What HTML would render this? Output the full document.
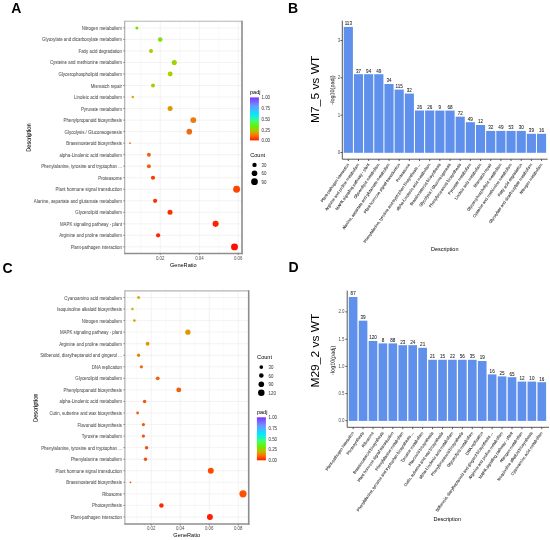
<!DOCTYPE html><html><head><meta charset="utf-8"><style>html,body{margin:0;padding:0;background:#fff;width:550px;height:540px;overflow:hidden}svg{display:block;will-change:transform}</style></head><body><svg width="550" height="540" viewBox="0 0 550 540" font-family='"Liberation Sans", sans-serif'>
<defs><linearGradient id="rb" x1="0" y1="1" x2="0" y2="0"><stop offset="0" stop-color="#ff1a00"/><stop offset="0.1" stop-color="#ff6a00"/><stop offset="0.2" stop-color="#c8b400"/><stop offset="0.32" stop-color="#66f000"/><stop offset="0.45" stop-color="#40ff70"/><stop offset="0.6" stop-color="#00eaff"/><stop offset="0.8" stop-color="#6a9aff"/><stop offset="1" stop-color="#8033ff"/></linearGradient><filter id="soft" x="0" y="0" width="550" height="540" filterUnits="userSpaceOnUse"><feGaussianBlur stdDeviation="0.3"/></filter></defs>
<rect width="550" height="540" fill="#fff"/>
<g filter="url(#soft)">
<text x="0" y="0.00" font-size="14" text-anchor="start" fill="#000" font-weight="bold" transform="translate(11.30 12.80) scale(1 1)">A</text>
<line x1="140.60" y1="21.25" x2="140.60" y2="253.50" stroke="#f4f4f4" stroke-width="0.5"/>
<line x1="179.80" y1="21.25" x2="179.80" y2="253.50" stroke="#f4f4f4" stroke-width="0.5"/>
<line x1="218.80" y1="21.25" x2="218.80" y2="253.50" stroke="#f4f4f4" stroke-width="0.5"/>
<line x1="124.70" y1="27.90" x2="242.00" y2="27.90" stroke="#ebebeb" stroke-width="0.6"/>
<line x1="124.70" y1="39.43" x2="242.00" y2="39.43" stroke="#ebebeb" stroke-width="0.6"/>
<line x1="124.70" y1="50.95" x2="242.00" y2="50.95" stroke="#ebebeb" stroke-width="0.6"/>
<line x1="124.70" y1="62.48" x2="242.00" y2="62.48" stroke="#ebebeb" stroke-width="0.6"/>
<line x1="124.70" y1="74.00" x2="242.00" y2="74.00" stroke="#ebebeb" stroke-width="0.6"/>
<line x1="124.70" y1="85.53" x2="242.00" y2="85.53" stroke="#ebebeb" stroke-width="0.6"/>
<line x1="124.70" y1="97.06" x2="242.00" y2="97.06" stroke="#ebebeb" stroke-width="0.6"/>
<line x1="124.70" y1="108.58" x2="242.00" y2="108.58" stroke="#ebebeb" stroke-width="0.6"/>
<line x1="124.70" y1="120.11" x2="242.00" y2="120.11" stroke="#ebebeb" stroke-width="0.6"/>
<line x1="124.70" y1="131.63" x2="242.00" y2="131.63" stroke="#ebebeb" stroke-width="0.6"/>
<line x1="124.70" y1="143.16" x2="242.00" y2="143.16" stroke="#ebebeb" stroke-width="0.6"/>
<line x1="124.70" y1="154.69" x2="242.00" y2="154.69" stroke="#ebebeb" stroke-width="0.6"/>
<line x1="124.70" y1="166.21" x2="242.00" y2="166.21" stroke="#ebebeb" stroke-width="0.6"/>
<line x1="124.70" y1="177.74" x2="242.00" y2="177.74" stroke="#ebebeb" stroke-width="0.6"/>
<line x1="124.70" y1="189.26" x2="242.00" y2="189.26" stroke="#ebebeb" stroke-width="0.6"/>
<line x1="124.70" y1="200.79" x2="242.00" y2="200.79" stroke="#ebebeb" stroke-width="0.6"/>
<line x1="124.70" y1="212.32" x2="242.00" y2="212.32" stroke="#ebebeb" stroke-width="0.6"/>
<line x1="124.70" y1="223.84" x2="242.00" y2="223.84" stroke="#ebebeb" stroke-width="0.6"/>
<line x1="124.70" y1="235.37" x2="242.00" y2="235.37" stroke="#ebebeb" stroke-width="0.6"/>
<line x1="124.70" y1="246.89" x2="242.00" y2="246.89" stroke="#ebebeb" stroke-width="0.6"/>
<line x1="160.20" y1="21.25" x2="160.20" y2="253.50" stroke="#ebebeb" stroke-width="0.6"/>
<line x1="199.40" y1="21.25" x2="199.40" y2="253.50" stroke="#ebebeb" stroke-width="0.6"/>
<line x1="238.20" y1="21.25" x2="238.20" y2="253.50" stroke="#ebebeb" stroke-width="0.6"/>
<circle cx="136.90" cy="27.90" r="1.50" fill="#66e600"/>
<circle cx="160.20" cy="39.43" r="2.30" fill="#80e010"/>
<circle cx="151.00" cy="50.95" r="2.00" fill="#aacc00"/>
<circle cx="174.30" cy="62.48" r="2.55" fill="#a0d400"/>
<circle cx="170.20" cy="74.00" r="2.45" fill="#aad000"/>
<circle cx="153.00" cy="85.53" r="2.00" fill="#a0d000"/>
<circle cx="132.80" cy="97.06" r="1.20" fill="#d4a800"/>
<circle cx="170.10" cy="108.58" r="2.50" fill="#dd9a00"/>
<circle cx="193.30" cy="120.11" r="2.95" fill="#ee7a10"/>
<circle cx="189.30" cy="131.63" r="2.80" fill="#ee6a10"/>
<circle cx="130.00" cy="143.16" r="0.90" fill="#ee7030"/>
<circle cx="148.90" cy="154.69" r="1.95" fill="#f06010"/>
<circle cx="148.90" cy="166.21" r="1.95" fill="#f06010"/>
<circle cx="153.00" cy="177.74" r="2.10" fill="#ff3a00"/>
<circle cx="236.60" cy="189.26" r="3.45" fill="#ff4400"/>
<circle cx="155.10" cy="200.79" r="2.10" fill="#ff3000"/>
<circle cx="170.00" cy="212.32" r="2.50" fill="#ff2a00"/>
<circle cx="215.60" cy="223.84" r="3.05" fill="#ff2000"/>
<circle cx="158.10" cy="235.37" r="2.10" fill="#ff2000"/>
<circle cx="234.50" cy="246.89" r="3.45" fill="#ff1000"/>
<line x1="124.70" y1="21.25" x2="242.00" y2="21.25" stroke="#b4b4b4" stroke-width="1.2"/>
<line x1="124.70" y1="20.65" x2="124.70" y2="254.30" stroke="#a8a8a8" stroke-width="1.1"/>
<line x1="242.00" y1="20.65" x2="242.00" y2="254.30" stroke="#8c8c8c" stroke-width="1.6"/>
<line x1="124.15" y1="253.50" x2="242.80" y2="253.50" stroke="#8f8f8f" stroke-width="1.6"/>
<line x1="123.10" y1="27.90" x2="124.70" y2="27.90" stroke="#555" stroke-width="0.6"/>
<text x="0" y="1.47" font-size="4.4" text-anchor="end" fill="#575757" font-weight="normal" transform="translate(121.90 28.35) scale(1 1.05)" stroke="#575757" stroke-width="0.05">Nitrogen metabolism</text>
<line x1="123.10" y1="39.43" x2="124.70" y2="39.43" stroke="#555" stroke-width="0.6"/>
<text x="0" y="1.47" font-size="4.4" text-anchor="end" fill="#575757" font-weight="normal" transform="translate(121.90 39.88) scale(1 1.05)" stroke="#575757" stroke-width="0.05">Glyoxylate and dicarboxylate metabolism</text>
<line x1="123.10" y1="50.95" x2="124.70" y2="50.95" stroke="#555" stroke-width="0.6"/>
<text x="0" y="1.47" font-size="4.4" text-anchor="end" fill="#575757" font-weight="normal" transform="translate(121.90 51.40) scale(1 1.05)" stroke="#575757" stroke-width="0.05">Fatty acid degradation</text>
<line x1="123.10" y1="62.48" x2="124.70" y2="62.48" stroke="#555" stroke-width="0.6"/>
<text x="0" y="1.47" font-size="4.4" text-anchor="end" fill="#575757" font-weight="normal" transform="translate(121.90 62.93) scale(1 1.05)" stroke="#575757" stroke-width="0.05">Cysteine and methionine metabolism</text>
<line x1="123.10" y1="74.00" x2="124.70" y2="74.00" stroke="#555" stroke-width="0.6"/>
<text x="0" y="1.47" font-size="4.4" text-anchor="end" fill="#575757" font-weight="normal" transform="translate(121.90 74.45) scale(1 1.05)" stroke="#575757" stroke-width="0.05">Glycerophospholipid metabolism</text>
<line x1="123.10" y1="85.53" x2="124.70" y2="85.53" stroke="#555" stroke-width="0.6"/>
<text x="0" y="1.47" font-size="4.4" text-anchor="end" fill="#575757" font-weight="normal" transform="translate(121.90 85.98) scale(1 1.05)" stroke="#575757" stroke-width="0.05">Mismatch repair</text>
<line x1="123.10" y1="97.06" x2="124.70" y2="97.06" stroke="#555" stroke-width="0.6"/>
<text x="0" y="1.47" font-size="4.4" text-anchor="end" fill="#575757" font-weight="normal" transform="translate(121.90 97.51) scale(1 1.05)" stroke="#575757" stroke-width="0.05">Linoleic acid metabolism</text>
<line x1="123.10" y1="108.58" x2="124.70" y2="108.58" stroke="#555" stroke-width="0.6"/>
<text x="0" y="1.47" font-size="4.4" text-anchor="end" fill="#575757" font-weight="normal" transform="translate(121.90 109.03) scale(1 1.05)" stroke="#575757" stroke-width="0.05">Pyruvate metabolism</text>
<line x1="123.10" y1="120.11" x2="124.70" y2="120.11" stroke="#555" stroke-width="0.6"/>
<text x="0" y="1.47" font-size="4.4" text-anchor="end" fill="#575757" font-weight="normal" transform="translate(121.90 120.56) scale(1 1.05)" stroke="#575757" stroke-width="0.05">Phenylpropanoid biosynthesis</text>
<line x1="123.10" y1="131.63" x2="124.70" y2="131.63" stroke="#555" stroke-width="0.6"/>
<text x="0" y="1.47" font-size="4.4" text-anchor="end" fill="#575757" font-weight="normal" transform="translate(121.90 132.08) scale(1 1.05)" stroke="#575757" stroke-width="0.05">Glycolysis / Gluconeogenesis</text>
<line x1="123.10" y1="143.16" x2="124.70" y2="143.16" stroke="#555" stroke-width="0.6"/>
<text x="0" y="1.47" font-size="4.4" text-anchor="end" fill="#575757" font-weight="normal" transform="translate(121.90 143.61) scale(1 1.05)" stroke="#575757" stroke-width="0.05">Brassinosteroid biosynthesis</text>
<line x1="123.10" y1="154.69" x2="124.70" y2="154.69" stroke="#555" stroke-width="0.6"/>
<text x="0" y="1.47" font-size="4.4" text-anchor="end" fill="#575757" font-weight="normal" transform="translate(121.90 155.14) scale(1 1.05)" stroke="#575757" stroke-width="0.05">alpha-Linolenic acid metabolism</text>
<line x1="123.10" y1="166.21" x2="124.70" y2="166.21" stroke="#555" stroke-width="0.6"/>
<text x="0" y="1.47" font-size="4.4" text-anchor="end" fill="#575757" font-weight="normal" transform="translate(121.90 166.66) scale(1 1.05)" stroke="#575757" stroke-width="0.05">Phenylalanine, tyrosine and tryptophan ...</text>
<line x1="123.10" y1="177.74" x2="124.70" y2="177.74" stroke="#555" stroke-width="0.6"/>
<text x="0" y="1.47" font-size="4.4" text-anchor="end" fill="#575757" font-weight="normal" transform="translate(121.90 178.19) scale(1 1.05)" stroke="#575757" stroke-width="0.05">Proteasome</text>
<line x1="123.10" y1="189.26" x2="124.70" y2="189.26" stroke="#555" stroke-width="0.6"/>
<text x="0" y="1.47" font-size="4.4" text-anchor="end" fill="#575757" font-weight="normal" transform="translate(121.90 189.71) scale(1 1.05)" stroke="#575757" stroke-width="0.05">Plant hormone signal transduction</text>
<line x1="123.10" y1="200.79" x2="124.70" y2="200.79" stroke="#555" stroke-width="0.6"/>
<text x="0" y="1.47" font-size="4.4" text-anchor="end" fill="#575757" font-weight="normal" transform="translate(121.90 201.24) scale(1 1.05)" stroke="#575757" stroke-width="0.05">Alanine, aspartate and glutamate metabolism</text>
<line x1="123.10" y1="212.32" x2="124.70" y2="212.32" stroke="#555" stroke-width="0.6"/>
<text x="0" y="1.47" font-size="4.4" text-anchor="end" fill="#575757" font-weight="normal" transform="translate(121.90 212.77) scale(1 1.05)" stroke="#575757" stroke-width="0.05">Glycerolipid metabolism</text>
<line x1="123.10" y1="223.84" x2="124.70" y2="223.84" stroke="#555" stroke-width="0.6"/>
<text x="0" y="1.47" font-size="4.4" text-anchor="end" fill="#575757" font-weight="normal" transform="translate(121.90 224.29) scale(1 1.05)" stroke="#575757" stroke-width="0.05">MAPK signaling pathway - plant</text>
<line x1="123.10" y1="235.37" x2="124.70" y2="235.37" stroke="#555" stroke-width="0.6"/>
<text x="0" y="1.47" font-size="4.4" text-anchor="end" fill="#575757" font-weight="normal" transform="translate(121.90 235.82) scale(1 1.05)" stroke="#575757" stroke-width="0.05">Arginine and proline metabolism</text>
<line x1="123.10" y1="246.89" x2="124.70" y2="246.89" stroke="#555" stroke-width="0.6"/>
<text x="0" y="1.47" font-size="4.4" text-anchor="end" fill="#575757" font-weight="normal" transform="translate(121.90 247.34) scale(1 1.05)" stroke="#575757" stroke-width="0.05">Plant-pathogen interaction</text>
<line x1="160.20" y1="253.50" x2="160.20" y2="255.10" stroke="#555" stroke-width="0.6"/>
<text x="0" y="1.47" font-size="4.4" text-anchor="middle" fill="#4d4d4d" font-weight="normal" transform="translate(160.20 258.20) scale(1 1.05)">0.02</text>
<line x1="199.40" y1="253.50" x2="199.40" y2="255.10" stroke="#555" stroke-width="0.6"/>
<text x="0" y="1.47" font-size="4.4" text-anchor="middle" fill="#4d4d4d" font-weight="normal" transform="translate(199.40 258.20) scale(1 1.05)">0.04</text>
<line x1="238.20" y1="253.50" x2="238.20" y2="255.10" stroke="#555" stroke-width="0.6"/>
<text x="0" y="1.47" font-size="4.4" text-anchor="middle" fill="#4d4d4d" font-weight="normal" transform="translate(238.20 258.20) scale(1 1.05)">0.06</text>
<text x="0" y="1.87" font-size="5.6" text-anchor="middle" fill="#000" font-weight="normal" transform="translate(183.30 264.80) scale(1 1.05)">GeneRatio</text>
<text x="0" y="1.90" font-size="5.7" text-anchor="middle" fill="#000" font-weight="normal" transform="translate(28.70 137.60) rotate(-89.6) scale(1 1.05)" stroke="#000" stroke-width="0.08">Description</text>
<text x="0" y="1.87" font-size="5.6" text-anchor="start" fill="#000" font-weight="normal" transform="translate(250.00 92.30) scale(1 1.05)">padj</text>
<rect x="250.00" y="97.40" width="8.90" height="43.00" fill="url(#rb)"/>
<text x="0" y="1.47" font-size="4.4" text-anchor="start" fill="#4d4d4d" font-weight="normal" transform="translate(261.50 97.70) scale(1 1.05)" stroke="#4d4d4d" stroke-width="0.06">1.00</text>
<text x="0" y="1.47" font-size="4.4" text-anchor="start" fill="#4d4d4d" font-weight="normal" transform="translate(261.50 108.45) scale(1 1.05)" stroke="#4d4d4d" stroke-width="0.06">0.75</text>
<text x="0" y="1.47" font-size="4.4" text-anchor="start" fill="#4d4d4d" font-weight="normal" transform="translate(261.50 119.20) scale(1 1.05)" stroke="#4d4d4d" stroke-width="0.06">0.50</text>
<text x="0" y="1.47" font-size="4.4" text-anchor="start" fill="#4d4d4d" font-weight="normal" transform="translate(261.50 129.95) scale(1 1.05)" stroke="#4d4d4d" stroke-width="0.06">0.25</text>
<text x="0" y="1.47" font-size="4.4" text-anchor="start" fill="#4d4d4d" font-weight="normal" transform="translate(261.50 140.70) scale(1 1.05)" stroke="#4d4d4d" stroke-width="0.06">0.00</text>
<text x="0" y="1.87" font-size="5.6" text-anchor="start" fill="#000" font-weight="normal" transform="translate(250.20 154.60) scale(1 1.05)">Count</text>
<circle cx="254.50" cy="164.90" r="2.20" fill="#000"/>
<text x="0" y="1.47" font-size="4.4" text-anchor="start" fill="#4d4d4d" font-weight="normal" transform="translate(261.50 165.40) scale(1 1.05)" stroke="#4d4d4d" stroke-width="0.06">30</text>
<circle cx="254.50" cy="173.30" r="2.80" fill="#000"/>
<text x="0" y="1.47" font-size="4.4" text-anchor="start" fill="#4d4d4d" font-weight="normal" transform="translate(261.50 173.80) scale(1 1.05)" stroke="#4d4d4d" stroke-width="0.06">60</text>
<circle cx="254.50" cy="181.70" r="3.35" fill="#000"/>
<text x="0" y="1.47" font-size="4.4" text-anchor="start" fill="#4d4d4d" font-weight="normal" transform="translate(261.50 182.20) scale(1 1.05)" stroke="#4d4d4d" stroke-width="0.06">90</text>
<text x="0" y="0.00" font-size="14" text-anchor="start" fill="#000" font-weight="bold" transform="translate(2.40 273.10) scale(1 1)">C</text>
<line x1="136.70" y1="290.90" x2="136.70" y2="524.00" stroke="#f4f4f4" stroke-width="0.5"/>
<line x1="165.70" y1="290.90" x2="165.70" y2="524.00" stroke="#f4f4f4" stroke-width="0.5"/>
<line x1="194.70" y1="290.90" x2="194.70" y2="524.00" stroke="#f4f4f4" stroke-width="0.5"/>
<line x1="223.70" y1="290.90" x2="223.70" y2="524.00" stroke="#f4f4f4" stroke-width="0.5"/>
<line x1="124.90" y1="297.50" x2="248.70" y2="297.50" stroke="#ebebeb" stroke-width="0.6"/>
<line x1="124.90" y1="309.05" x2="248.70" y2="309.05" stroke="#ebebeb" stroke-width="0.6"/>
<line x1="124.90" y1="320.60" x2="248.70" y2="320.60" stroke="#ebebeb" stroke-width="0.6"/>
<line x1="124.90" y1="332.15" x2="248.70" y2="332.15" stroke="#ebebeb" stroke-width="0.6"/>
<line x1="124.90" y1="343.70" x2="248.70" y2="343.70" stroke="#ebebeb" stroke-width="0.6"/>
<line x1="124.90" y1="355.25" x2="248.70" y2="355.25" stroke="#ebebeb" stroke-width="0.6"/>
<line x1="124.90" y1="366.80" x2="248.70" y2="366.80" stroke="#ebebeb" stroke-width="0.6"/>
<line x1="124.90" y1="378.35" x2="248.70" y2="378.35" stroke="#ebebeb" stroke-width="0.6"/>
<line x1="124.90" y1="389.90" x2="248.70" y2="389.90" stroke="#ebebeb" stroke-width="0.6"/>
<line x1="124.90" y1="401.45" x2="248.70" y2="401.45" stroke="#ebebeb" stroke-width="0.6"/>
<line x1="124.90" y1="413.00" x2="248.70" y2="413.00" stroke="#ebebeb" stroke-width="0.6"/>
<line x1="124.90" y1="424.55" x2="248.70" y2="424.55" stroke="#ebebeb" stroke-width="0.6"/>
<line x1="124.90" y1="436.10" x2="248.70" y2="436.10" stroke="#ebebeb" stroke-width="0.6"/>
<line x1="124.90" y1="447.65" x2="248.70" y2="447.65" stroke="#ebebeb" stroke-width="0.6"/>
<line x1="124.90" y1="459.20" x2="248.70" y2="459.20" stroke="#ebebeb" stroke-width="0.6"/>
<line x1="124.90" y1="470.75" x2="248.70" y2="470.75" stroke="#ebebeb" stroke-width="0.6"/>
<line x1="124.90" y1="482.30" x2="248.70" y2="482.30" stroke="#ebebeb" stroke-width="0.6"/>
<line x1="124.90" y1="493.85" x2="248.70" y2="493.85" stroke="#ebebeb" stroke-width="0.6"/>
<line x1="124.90" y1="505.40" x2="248.70" y2="505.40" stroke="#ebebeb" stroke-width="0.6"/>
<line x1="124.90" y1="516.95" x2="248.70" y2="516.95" stroke="#ebebeb" stroke-width="0.6"/>
<line x1="151.20" y1="290.90" x2="151.20" y2="524.00" stroke="#ebebeb" stroke-width="0.6"/>
<line x1="180.20" y1="290.90" x2="180.20" y2="524.00" stroke="#ebebeb" stroke-width="0.6"/>
<line x1="209.20" y1="290.90" x2="209.20" y2="524.00" stroke="#ebebeb" stroke-width="0.6"/>
<line x1="238.20" y1="290.90" x2="238.20" y2="524.00" stroke="#ebebeb" stroke-width="0.6"/>
<circle cx="138.60" cy="297.50" r="1.50" fill="#d4b000"/>
<circle cx="132.40" cy="309.05" r="1.20" fill="#ccaa00"/>
<circle cx="134.40" cy="320.60" r="1.35" fill="#ccaa00"/>
<circle cx="187.90" cy="332.15" r="2.65" fill="#dd9900"/>
<circle cx="147.60" cy="343.70" r="1.93" fill="#dd9900"/>
<circle cx="138.60" cy="355.25" r="1.65" fill="#e08800"/>
<circle cx="141.40" cy="366.80" r="1.65" fill="#ee6a10"/>
<circle cx="157.70" cy="378.35" r="1.95" fill="#ee6a10"/>
<circle cx="178.80" cy="389.90" r="2.45" fill="#ee6010"/>
<circle cx="144.60" cy="401.45" r="1.75" fill="#f05a10"/>
<circle cx="137.60" cy="413.00" r="1.40" fill="#f05a10"/>
<circle cx="143.40" cy="424.55" r="1.60" fill="#f05a10"/>
<circle cx="143.40" cy="436.10" r="1.60" fill="#f05010"/>
<circle cx="146.60" cy="447.65" r="1.75" fill="#f05010"/>
<circle cx="145.50" cy="459.20" r="1.75" fill="#f05010"/>
<circle cx="210.80" cy="470.75" r="2.95" fill="#ff4a00"/>
<circle cx="130.50" cy="482.30" r="0.90" fill="#ff5010"/>
<circle cx="243.00" cy="493.85" r="3.60" fill="#ff5000"/>
<circle cx="161.40" cy="505.40" r="2.25" fill="#ff2a00"/>
<circle cx="209.90" cy="516.95" r="2.95" fill="#ff1a00"/>
<line x1="124.90" y1="290.90" x2="248.70" y2="290.90" stroke="#b4b4b4" stroke-width="1.2"/>
<line x1="124.90" y1="290.30" x2="124.90" y2="524.80" stroke="#a8a8a8" stroke-width="1.1"/>
<line x1="248.70" y1="290.30" x2="248.70" y2="524.80" stroke="#8c8c8c" stroke-width="1.6"/>
<line x1="124.35" y1="524.00" x2="249.50" y2="524.00" stroke="#8f8f8f" stroke-width="1.6"/>
<line x1="123.30" y1="297.50" x2="124.90" y2="297.50" stroke="#555" stroke-width="0.6"/>
<text x="0" y="1.47" font-size="4.4" text-anchor="end" fill="#575757" font-weight="normal" transform="translate(121.90 297.95) scale(1 1.05)" stroke="#575757" stroke-width="0.05">Cyanoamino acid metabolism</text>
<line x1="123.30" y1="309.05" x2="124.90" y2="309.05" stroke="#555" stroke-width="0.6"/>
<text x="0" y="1.47" font-size="4.4" text-anchor="end" fill="#575757" font-weight="normal" transform="translate(121.90 309.50) scale(1 1.05)" stroke="#575757" stroke-width="0.05">Isoquinoline alkaloid biosynthesis</text>
<line x1="123.30" y1="320.60" x2="124.90" y2="320.60" stroke="#555" stroke-width="0.6"/>
<text x="0" y="1.47" font-size="4.4" text-anchor="end" fill="#575757" font-weight="normal" transform="translate(121.90 321.05) scale(1 1.05)" stroke="#575757" stroke-width="0.05">Nitrogen metabolism</text>
<line x1="123.30" y1="332.15" x2="124.90" y2="332.15" stroke="#555" stroke-width="0.6"/>
<text x="0" y="1.47" font-size="4.4" text-anchor="end" fill="#575757" font-weight="normal" transform="translate(121.90 332.60) scale(1 1.05)" stroke="#575757" stroke-width="0.05">MAPK signaling pathway - plant</text>
<line x1="123.30" y1="343.70" x2="124.90" y2="343.70" stroke="#555" stroke-width="0.6"/>
<text x="0" y="1.47" font-size="4.4" text-anchor="end" fill="#575757" font-weight="normal" transform="translate(121.90 344.15) scale(1 1.05)" stroke="#575757" stroke-width="0.05">Arginine and proline metabolism</text>
<line x1="123.30" y1="355.25" x2="124.90" y2="355.25" stroke="#555" stroke-width="0.6"/>
<text x="0" y="1.47" font-size="4.4" text-anchor="end" fill="#575757" font-weight="normal" transform="translate(121.90 355.70) scale(1 1.05)" stroke="#575757" stroke-width="0.05">Stilbenoid, diarylheptanoid and gingerol ...</text>
<line x1="123.30" y1="366.80" x2="124.90" y2="366.80" stroke="#555" stroke-width="0.6"/>
<text x="0" y="1.47" font-size="4.4" text-anchor="end" fill="#575757" font-weight="normal" transform="translate(121.90 367.25) scale(1 1.05)" stroke="#575757" stroke-width="0.05">DNA replication</text>
<line x1="123.30" y1="378.35" x2="124.90" y2="378.35" stroke="#555" stroke-width="0.6"/>
<text x="0" y="1.47" font-size="4.4" text-anchor="end" fill="#575757" font-weight="normal" transform="translate(121.90 378.80) scale(1 1.05)" stroke="#575757" stroke-width="0.05">Glycerolipid metabolism</text>
<line x1="123.30" y1="389.90" x2="124.90" y2="389.90" stroke="#555" stroke-width="0.6"/>
<text x="0" y="1.47" font-size="4.4" text-anchor="end" fill="#575757" font-weight="normal" transform="translate(121.90 390.35) scale(1 1.05)" stroke="#575757" stroke-width="0.05">Phenylpropanoid biosynthesis</text>
<line x1="123.30" y1="401.45" x2="124.90" y2="401.45" stroke="#555" stroke-width="0.6"/>
<text x="0" y="1.47" font-size="4.4" text-anchor="end" fill="#575757" font-weight="normal" transform="translate(121.90 401.90) scale(1 1.05)" stroke="#575757" stroke-width="0.05">alpha-Linolenic acid metabolism</text>
<line x1="123.30" y1="413.00" x2="124.90" y2="413.00" stroke="#555" stroke-width="0.6"/>
<text x="0" y="1.47" font-size="4.4" text-anchor="end" fill="#575757" font-weight="normal" transform="translate(121.90 413.45) scale(1 1.05)" stroke="#575757" stroke-width="0.05">Cutin, suberine and wax biosynthesis</text>
<line x1="123.30" y1="424.55" x2="124.90" y2="424.55" stroke="#555" stroke-width="0.6"/>
<text x="0" y="1.47" font-size="4.4" text-anchor="end" fill="#575757" font-weight="normal" transform="translate(121.90 425.00) scale(1 1.05)" stroke="#575757" stroke-width="0.05">Flavonoid biosynthesis</text>
<line x1="123.30" y1="436.10" x2="124.90" y2="436.10" stroke="#555" stroke-width="0.6"/>
<text x="0" y="1.47" font-size="4.4" text-anchor="end" fill="#575757" font-weight="normal" transform="translate(121.90 436.55) scale(1 1.05)" stroke="#575757" stroke-width="0.05">Tyrosine metabolism</text>
<line x1="123.30" y1="447.65" x2="124.90" y2="447.65" stroke="#555" stroke-width="0.6"/>
<text x="0" y="1.47" font-size="4.4" text-anchor="end" fill="#575757" font-weight="normal" transform="translate(121.90 448.10) scale(1 1.05)" stroke="#575757" stroke-width="0.05">Phenylalanine, tyrosine and tryptophan ...</text>
<line x1="123.30" y1="459.20" x2="124.90" y2="459.20" stroke="#555" stroke-width="0.6"/>
<text x="0" y="1.47" font-size="4.4" text-anchor="end" fill="#575757" font-weight="normal" transform="translate(121.90 459.65) scale(1 1.05)" stroke="#575757" stroke-width="0.05">Phenylalanine metabolism</text>
<line x1="123.30" y1="470.75" x2="124.90" y2="470.75" stroke="#555" stroke-width="0.6"/>
<text x="0" y="1.47" font-size="4.4" text-anchor="end" fill="#575757" font-weight="normal" transform="translate(121.90 471.20) scale(1 1.05)" stroke="#575757" stroke-width="0.05">Plant hormone signal transduction</text>
<line x1="123.30" y1="482.30" x2="124.90" y2="482.30" stroke="#555" stroke-width="0.6"/>
<text x="0" y="1.47" font-size="4.4" text-anchor="end" fill="#575757" font-weight="normal" transform="translate(121.90 482.75) scale(1 1.05)" stroke="#575757" stroke-width="0.05">Brassinosteroid biosynthesis</text>
<line x1="123.30" y1="493.85" x2="124.90" y2="493.85" stroke="#555" stroke-width="0.6"/>
<text x="0" y="1.47" font-size="4.4" text-anchor="end" fill="#575757" font-weight="normal" transform="translate(121.90 494.30) scale(1 1.05)" stroke="#575757" stroke-width="0.05">Ribosome</text>
<line x1="123.30" y1="505.40" x2="124.90" y2="505.40" stroke="#555" stroke-width="0.6"/>
<text x="0" y="1.47" font-size="4.4" text-anchor="end" fill="#575757" font-weight="normal" transform="translate(121.90 505.85) scale(1 1.05)" stroke="#575757" stroke-width="0.05">Photosynthesis</text>
<line x1="123.30" y1="516.95" x2="124.90" y2="516.95" stroke="#555" stroke-width="0.6"/>
<text x="0" y="1.47" font-size="4.4" text-anchor="end" fill="#575757" font-weight="normal" transform="translate(121.90 517.40) scale(1 1.05)" stroke="#575757" stroke-width="0.05">Plant-pathogen interaction</text>
<line x1="151.20" y1="524.00" x2="151.20" y2="525.60" stroke="#555" stroke-width="0.6"/>
<text x="0" y="1.47" font-size="4.4" text-anchor="middle" fill="#4d4d4d" font-weight="normal" transform="translate(151.20 528.60) scale(1 1.05)">0.02</text>
<line x1="180.20" y1="524.00" x2="180.20" y2="525.60" stroke="#555" stroke-width="0.6"/>
<text x="0" y="1.47" font-size="4.4" text-anchor="middle" fill="#4d4d4d" font-weight="normal" transform="translate(180.20 528.60) scale(1 1.05)">0.04</text>
<line x1="209.20" y1="524.00" x2="209.20" y2="525.60" stroke="#555" stroke-width="0.6"/>
<text x="0" y="1.47" font-size="4.4" text-anchor="middle" fill="#4d4d4d" font-weight="normal" transform="translate(209.20 528.60) scale(1 1.05)">0.06</text>
<line x1="238.20" y1="524.00" x2="238.20" y2="525.60" stroke="#555" stroke-width="0.6"/>
<text x="0" y="1.47" font-size="4.4" text-anchor="middle" fill="#4d4d4d" font-weight="normal" transform="translate(238.20 528.60) scale(1 1.05)">0.08</text>
<text x="0" y="1.87" font-size="5.6" text-anchor="middle" fill="#000" font-weight="normal" transform="translate(186.70 535.50) scale(1 1.05)">GeneRatio</text>
<text x="0" y="1.90" font-size="5.7" text-anchor="middle" fill="#000" font-weight="normal" transform="translate(35.50 407.70) rotate(-89.6) scale(1 1.05)" stroke="#000" stroke-width="0.08">Description</text>
<text x="0" y="1.87" font-size="5.6" text-anchor="start" fill="#000" font-weight="normal" transform="translate(257.10 357.30) scale(1 1.05)">Count</text>
<circle cx="261.30" cy="367.10" r="1.85" fill="#000"/>
<text x="0" y="1.47" font-size="4.4" text-anchor="start" fill="#4d4d4d" font-weight="normal" transform="translate(268.60 367.60) scale(1 1.05)" stroke="#4d4d4d" stroke-width="0.06">30</text>
<circle cx="261.30" cy="375.50" r="2.30" fill="#000"/>
<text x="0" y="1.47" font-size="4.4" text-anchor="start" fill="#4d4d4d" font-weight="normal" transform="translate(268.60 376.00) scale(1 1.05)" stroke="#4d4d4d" stroke-width="0.06">60</text>
<circle cx="261.30" cy="384.30" r="2.80" fill="#000"/>
<text x="0" y="1.47" font-size="4.4" text-anchor="start" fill="#4d4d4d" font-weight="normal" transform="translate(268.60 384.80) scale(1 1.05)" stroke="#4d4d4d" stroke-width="0.06">90</text>
<circle cx="261.30" cy="392.80" r="3.25" fill="#000"/>
<text x="0" y="1.47" font-size="4.4" text-anchor="start" fill="#4d4d4d" font-weight="normal" transform="translate(268.60 393.30) scale(1 1.05)" stroke="#4d4d4d" stroke-width="0.06">120</text>
<text x="0" y="1.87" font-size="5.6" text-anchor="start" fill="#000" font-weight="normal" transform="translate(256.90 412.50) scale(1 1.05)">padj</text>
<rect x="256.90" y="417.30" width="9.00" height="43.00" fill="url(#rb)"/>
<text x="0" y="1.47" font-size="4.4" text-anchor="start" fill="#4d4d4d" font-weight="normal" transform="translate(268.50 417.60) scale(1 1.05)" stroke="#4d4d4d" stroke-width="0.06">1.00</text>
<text x="0" y="1.47" font-size="4.4" text-anchor="start" fill="#4d4d4d" font-weight="normal" transform="translate(268.50 428.35) scale(1 1.05)" stroke="#4d4d4d" stroke-width="0.06">0.75</text>
<text x="0" y="1.47" font-size="4.4" text-anchor="start" fill="#4d4d4d" font-weight="normal" transform="translate(268.50 439.10) scale(1 1.05)" stroke="#4d4d4d" stroke-width="0.06">0.50</text>
<text x="0" y="1.47" font-size="4.4" text-anchor="start" fill="#4d4d4d" font-weight="normal" transform="translate(268.50 449.85) scale(1 1.05)" stroke="#4d4d4d" stroke-width="0.06">0.25</text>
<text x="0" y="1.47" font-size="4.4" text-anchor="start" fill="#4d4d4d" font-weight="normal" transform="translate(268.50 460.60) scale(1 1.05)" stroke="#4d4d4d" stroke-width="0.06">0.00</text>
<text x="0" y="0.00" font-size="14" text-anchor="start" fill="#000" font-weight="bold" transform="translate(287.90 13.00) scale(1 1)">B</text>
<rect x="343.75" y="26.90" width="9.15" height="125.90" fill="#5e90eb"/>
<text x="0" y="1.53" font-size="4.6" text-anchor="middle" fill="#222" font-weight="normal" transform="translate(348.32 23.70) scale(1 1.05)" stroke="#222" stroke-width="0.06">113</text>
<rect x="353.92" y="74.20" width="9.15" height="78.60" fill="#5e90eb"/>
<text x="0" y="1.53" font-size="4.6" text-anchor="middle" fill="#222" font-weight="normal" transform="translate(358.50 71.00) scale(1 1.05)" stroke="#222" stroke-width="0.06">37</text>
<rect x="364.09" y="74.20" width="9.15" height="78.60" fill="#5e90eb"/>
<text x="0" y="1.53" font-size="4.6" text-anchor="middle" fill="#222" font-weight="normal" transform="translate(368.66 71.00) scale(1 1.05)" stroke="#222" stroke-width="0.06">94</text>
<rect x="374.26" y="74.20" width="9.15" height="78.60" fill="#5e90eb"/>
<text x="0" y="1.53" font-size="4.6" text-anchor="middle" fill="#222" font-weight="normal" transform="translate(378.83 71.00) scale(1 1.05)" stroke="#222" stroke-width="0.06">49</text>
<rect x="384.43" y="84.00" width="9.15" height="68.80" fill="#5e90eb"/>
<text x="0" y="1.53" font-size="4.6" text-anchor="middle" fill="#222" font-weight="normal" transform="translate(389.00 80.80) scale(1 1.05)" stroke="#222" stroke-width="0.06">34</text>
<rect x="394.60" y="89.60" width="9.15" height="63.20" fill="#5e90eb"/>
<text x="0" y="1.53" font-size="4.6" text-anchor="middle" fill="#222" font-weight="normal" transform="translate(399.18 86.40) scale(1 1.05)" stroke="#222" stroke-width="0.06">115</text>
<rect x="404.77" y="93.60" width="9.15" height="59.20" fill="#5e90eb"/>
<text x="0" y="1.53" font-size="4.6" text-anchor="middle" fill="#222" font-weight="normal" transform="translate(409.34 90.40) scale(1 1.05)" stroke="#222" stroke-width="0.06">32</text>
<rect x="414.94" y="110.50" width="9.15" height="42.30" fill="#5e90eb"/>
<text x="0" y="1.53" font-size="4.6" text-anchor="middle" fill="#222" font-weight="normal" transform="translate(419.51 107.30) scale(1 1.05)" stroke="#222" stroke-width="0.06">26</text>
<rect x="425.11" y="110.50" width="9.15" height="42.30" fill="#5e90eb"/>
<text x="0" y="1.53" font-size="4.6" text-anchor="middle" fill="#222" font-weight="normal" transform="translate(429.69 107.30) scale(1 1.05)" stroke="#222" stroke-width="0.06">26</text>
<rect x="435.28" y="110.60" width="9.15" height="42.20" fill="#5e90eb"/>
<text x="0" y="1.53" font-size="4.6" text-anchor="middle" fill="#222" font-weight="normal" transform="translate(439.85 107.40) scale(1 1.05)" stroke="#222" stroke-width="0.06">9</text>
<rect x="445.45" y="110.60" width="9.15" height="42.20" fill="#5e90eb"/>
<text x="0" y="1.53" font-size="4.6" text-anchor="middle" fill="#222" font-weight="normal" transform="translate(450.02 107.40) scale(1 1.05)" stroke="#222" stroke-width="0.06">68</text>
<rect x="455.62" y="116.70" width="9.15" height="36.10" fill="#5e90eb"/>
<text x="0" y="1.53" font-size="4.6" text-anchor="middle" fill="#222" font-weight="normal" transform="translate(460.19 113.50) scale(1 1.05)" stroke="#222" stroke-width="0.06">72</text>
<rect x="465.79" y="122.20" width="9.15" height="30.60" fill="#5e90eb"/>
<text x="0" y="1.53" font-size="4.6" text-anchor="middle" fill="#222" font-weight="normal" transform="translate(470.36 119.00) scale(1 1.05)" stroke="#222" stroke-width="0.06">49</text>
<rect x="475.96" y="125.00" width="9.15" height="27.80" fill="#5e90eb"/>
<text x="0" y="1.53" font-size="4.6" text-anchor="middle" fill="#222" font-weight="normal" transform="translate(480.54 121.80) scale(1 1.05)" stroke="#222" stroke-width="0.06">12</text>
<rect x="486.13" y="130.90" width="9.15" height="21.90" fill="#5e90eb"/>
<text x="0" y="1.53" font-size="4.6" text-anchor="middle" fill="#222" font-weight="normal" transform="translate(490.70 127.70) scale(1 1.05)" stroke="#222" stroke-width="0.06">32</text>
<rect x="496.30" y="130.90" width="9.15" height="21.90" fill="#5e90eb"/>
<text x="0" y="1.53" font-size="4.6" text-anchor="middle" fill="#222" font-weight="normal" transform="translate(500.88 127.70) scale(1 1.05)" stroke="#222" stroke-width="0.06">49</text>
<rect x="506.47" y="130.90" width="9.15" height="21.90" fill="#5e90eb"/>
<text x="0" y="1.53" font-size="4.6" text-anchor="middle" fill="#222" font-weight="normal" transform="translate(511.05 127.70) scale(1 1.05)" stroke="#222" stroke-width="0.06">53</text>
<rect x="516.64" y="130.90" width="9.15" height="21.90" fill="#5e90eb"/>
<text x="0" y="1.53" font-size="4.6" text-anchor="middle" fill="#222" font-weight="normal" transform="translate(521.22 127.70) scale(1 1.05)" stroke="#222" stroke-width="0.06">30</text>
<rect x="526.81" y="133.80" width="9.15" height="19.00" fill="#5e90eb"/>
<text x="0" y="1.53" font-size="4.6" text-anchor="middle" fill="#222" font-weight="normal" transform="translate(531.38 130.60) scale(1 1.05)" stroke="#222" stroke-width="0.06">39</text>
<rect x="536.98" y="133.80" width="9.15" height="19.00" fill="#5e90eb"/>
<text x="0" y="1.53" font-size="4.6" text-anchor="middle" fill="#222" font-weight="normal" transform="translate(541.56 130.60) scale(1 1.05)" stroke="#222" stroke-width="0.06">16</text>
<line x1="342.30" y1="20.60" x2="342.30" y2="159.20" stroke="#444" stroke-width="0.9"/>
<line x1="342.30" y1="159.20" x2="547.60" y2="159.20" stroke="#444" stroke-width="0.9"/>
<line x1="340.50" y1="152.50" x2="342.30" y2="152.50" stroke="#333" stroke-width="0.8"/>
<text x="0" y="1.47" font-size="4.4" text-anchor="end" fill="#4d4d4d" font-weight="normal" transform="translate(340.30 152.50) scale(1 1.05)">0</text>
<line x1="340.50" y1="115.20" x2="342.30" y2="115.20" stroke="#333" stroke-width="0.8"/>
<text x="0" y="1.47" font-size="4.4" text-anchor="end" fill="#4d4d4d" font-weight="normal" transform="translate(340.30 115.20) scale(1 1.05)">1</text>
<line x1="340.50" y1="77.80" x2="342.30" y2="77.80" stroke="#333" stroke-width="0.8"/>
<text x="0" y="1.47" font-size="4.4" text-anchor="end" fill="#4d4d4d" font-weight="normal" transform="translate(340.30 77.80) scale(1 1.05)">2</text>
<line x1="340.50" y1="40.50" x2="342.30" y2="40.50" stroke="#333" stroke-width="0.8"/>
<text x="0" y="1.47" font-size="4.4" text-anchor="end" fill="#4d4d4d" font-weight="normal" transform="translate(340.30 40.50) scale(1 1.05)">3</text>
<line x1="348.32" y1="159.20" x2="348.32" y2="161.00" stroke="#333" stroke-width="0.8"/>
<text x="349.32" y="164.60" font-size="3.98" text-anchor="end" fill="#3d3d3d" stroke="#3d3d3d" stroke-width="0.12" transform="rotate(-55 349.32 164.60)">Plant-pathogen interaction</text>
<line x1="358.50" y1="159.20" x2="358.50" y2="161.00" stroke="#333" stroke-width="0.8"/>
<text x="359.50" y="164.60" font-size="3.98" text-anchor="end" fill="#3d3d3d" stroke="#3d3d3d" stroke-width="0.12" transform="rotate(-55 359.50 164.60)">Arginine and proline metabolism</text>
<line x1="368.66" y1="159.20" x2="368.66" y2="161.00" stroke="#333" stroke-width="0.8"/>
<text x="369.66" y="164.60" font-size="3.98" text-anchor="end" fill="#3d3d3d" stroke="#3d3d3d" stroke-width="0.12" transform="rotate(-55 369.66 164.60)">MAPK signaling pathway - plant</text>
<line x1="378.83" y1="159.20" x2="378.83" y2="161.00" stroke="#333" stroke-width="0.8"/>
<text x="379.83" y="164.60" font-size="3.98" text-anchor="end" fill="#3d3d3d" stroke="#3d3d3d" stroke-width="0.12" transform="rotate(-55 379.83 164.60)">Glycerolipid metabolism</text>
<line x1="389.00" y1="159.20" x2="389.00" y2="161.00" stroke="#333" stroke-width="0.8"/>
<text x="390.00" y="164.60" font-size="3.98" text-anchor="end" fill="#3d3d3d" stroke="#3d3d3d" stroke-width="0.12" transform="rotate(-55 390.00 164.60)">Alanine, aspartate and glutamate metabolism</text>
<line x1="399.18" y1="159.20" x2="399.18" y2="161.00" stroke="#333" stroke-width="0.8"/>
<text x="400.18" y="164.60" font-size="3.98" text-anchor="end" fill="#3d3d3d" stroke="#3d3d3d" stroke-width="0.12" transform="rotate(-55 400.18 164.60)">Plant hormone signal transduction</text>
<line x1="409.34" y1="159.20" x2="409.34" y2="161.00" stroke="#333" stroke-width="0.8"/>
<text x="410.34" y="164.60" font-size="3.98" text-anchor="end" fill="#3d3d3d" stroke="#3d3d3d" stroke-width="0.12" transform="rotate(-55 410.34 164.60)">Proteasome</text>
<line x1="419.51" y1="159.20" x2="419.51" y2="161.00" stroke="#333" stroke-width="0.8"/>
<text x="420.51" y="164.60" font-size="3.98" text-anchor="end" fill="#3d3d3d" stroke="#3d3d3d" stroke-width="0.12" transform="rotate(-55 420.51 164.60)">Phenylalanine, tyrosine and tryptophan biosynthesis ...</text>
<line x1="429.69" y1="159.20" x2="429.69" y2="161.00" stroke="#333" stroke-width="0.8"/>
<text x="430.69" y="164.60" font-size="3.98" text-anchor="end" fill="#3d3d3d" stroke="#3d3d3d" stroke-width="0.12" transform="rotate(-55 430.69 164.60)">alpha-Linolenic acid metabolism</text>
<line x1="439.85" y1="159.20" x2="439.85" y2="161.00" stroke="#333" stroke-width="0.8"/>
<text x="440.85" y="164.60" font-size="3.98" text-anchor="end" fill="#3d3d3d" stroke="#3d3d3d" stroke-width="0.12" transform="rotate(-55 440.85 164.60)">Brassinosteroid biosynthesis</text>
<line x1="450.02" y1="159.20" x2="450.02" y2="161.00" stroke="#333" stroke-width="0.8"/>
<text x="451.02" y="164.60" font-size="3.98" text-anchor="end" fill="#3d3d3d" stroke="#3d3d3d" stroke-width="0.12" transform="rotate(-55 451.02 164.60)">Glycolysis / Gluconeogenesis</text>
<line x1="460.19" y1="159.20" x2="460.19" y2="161.00" stroke="#333" stroke-width="0.8"/>
<text x="461.19" y="164.60" font-size="3.98" text-anchor="end" fill="#3d3d3d" stroke="#3d3d3d" stroke-width="0.12" transform="rotate(-55 461.19 164.60)">Phenylpropanoid biosynthesis</text>
<line x1="470.36" y1="159.20" x2="470.36" y2="161.00" stroke="#333" stroke-width="0.8"/>
<text x="471.36" y="164.60" font-size="3.98" text-anchor="end" fill="#3d3d3d" stroke="#3d3d3d" stroke-width="0.12" transform="rotate(-55 471.36 164.60)">Pyruvate metabolism</text>
<line x1="480.54" y1="159.20" x2="480.54" y2="161.00" stroke="#333" stroke-width="0.8"/>
<text x="481.54" y="164.60" font-size="3.98" text-anchor="end" fill="#3d3d3d" stroke="#3d3d3d" stroke-width="0.12" transform="rotate(-55 481.54 164.60)">Linoleic acid metabolism</text>
<line x1="490.70" y1="159.20" x2="490.70" y2="161.00" stroke="#333" stroke-width="0.8"/>
<text x="491.70" y="164.60" font-size="3.98" text-anchor="end" fill="#3d3d3d" stroke="#3d3d3d" stroke-width="0.12" transform="rotate(-55 491.70 164.60)">Mismatch repair</text>
<line x1="500.88" y1="159.20" x2="500.88" y2="161.00" stroke="#333" stroke-width="0.8"/>
<text x="501.88" y="164.60" font-size="3.98" text-anchor="end" fill="#3d3d3d" stroke="#3d3d3d" stroke-width="0.12" transform="rotate(-55 501.88 164.60)">Glycerophospholipid metabolism</text>
<line x1="511.05" y1="159.20" x2="511.05" y2="161.00" stroke="#333" stroke-width="0.8"/>
<text x="512.05" y="164.60" font-size="3.98" text-anchor="end" fill="#3d3d3d" stroke="#3d3d3d" stroke-width="0.12" transform="rotate(-55 512.05 164.60)">Cysteine and methionine metabolism</text>
<line x1="521.22" y1="159.20" x2="521.22" y2="161.00" stroke="#333" stroke-width="0.8"/>
<text x="522.22" y="164.60" font-size="3.98" text-anchor="end" fill="#3d3d3d" stroke="#3d3d3d" stroke-width="0.12" transform="rotate(-55 522.22 164.60)">Fatty acid degradation</text>
<line x1="531.38" y1="159.20" x2="531.38" y2="161.00" stroke="#333" stroke-width="0.8"/>
<text x="532.38" y="164.60" font-size="3.98" text-anchor="end" fill="#3d3d3d" stroke="#3d3d3d" stroke-width="0.12" transform="rotate(-55 532.38 164.60)">Glyoxylate and dicarboxylate metabolism</text>
<line x1="541.56" y1="159.20" x2="541.56" y2="161.00" stroke="#333" stroke-width="0.8"/>
<text x="542.56" y="164.60" font-size="3.98" text-anchor="end" fill="#3d3d3d" stroke="#3d3d3d" stroke-width="0.12" transform="rotate(-55 542.56 164.60)">Nitrogen metabolism</text>
<text x="0" y="4.57" font-size="12" text-anchor="middle" fill="#000" font-weight="normal" transform="translate(315.20 89.30) rotate(-90) scale(1 0.92)">M7_5 vs WT</text>
<text x="0" y="1.83" font-size="5.5" text-anchor="middle" fill="#000" font-weight="normal" transform="translate(332.30 90.00) rotate(-89.6) scale(1 1.05)">-log10(padj)</text>
<text x="0" y="1.83" font-size="5.5" text-anchor="middle" fill="#000" font-weight="normal" transform="translate(444.70 249.10) scale(1 1.05)">Description</text>
<text x="0" y="0.00" font-size="14" text-anchor="start" fill="#000" font-weight="bold" transform="translate(288.40 272.30) scale(1 1)">D</text>
<rect x="348.80" y="297.00" width="8.65" height="123.90" fill="#5e90eb"/>
<text x="0" y="1.53" font-size="4.6" text-anchor="middle" fill="#222" font-weight="normal" transform="translate(353.12 293.80) scale(1 1.05)" stroke="#222" stroke-width="0.06">87</text>
<rect x="358.73" y="320.70" width="8.65" height="100.20" fill="#5e90eb"/>
<text x="0" y="1.53" font-size="4.6" text-anchor="middle" fill="#222" font-weight="normal" transform="translate(363.06 317.50) scale(1 1.05)" stroke="#222" stroke-width="0.06">39</text>
<rect x="368.66" y="341.00" width="8.65" height="79.90" fill="#5e90eb"/>
<text x="0" y="1.53" font-size="4.6" text-anchor="middle" fill="#222" font-weight="normal" transform="translate(372.99 337.80) scale(1 1.05)" stroke="#222" stroke-width="0.06">120</text>
<rect x="378.59" y="343.40" width="8.65" height="77.50" fill="#5e90eb"/>
<text x="0" y="1.53" font-size="4.6" text-anchor="middle" fill="#222" font-weight="normal" transform="translate(382.92 340.20) scale(1 1.05)" stroke="#222" stroke-width="0.06">8</text>
<rect x="388.52" y="343.40" width="8.65" height="77.50" fill="#5e90eb"/>
<text x="0" y="1.53" font-size="4.6" text-anchor="middle" fill="#222" font-weight="normal" transform="translate(392.84 340.20) scale(1 1.05)" stroke="#222" stroke-width="0.06">88</text>
<rect x="398.45" y="345.20" width="8.65" height="75.70" fill="#5e90eb"/>
<text x="0" y="1.53" font-size="4.6" text-anchor="middle" fill="#222" font-weight="normal" transform="translate(402.77 342.00) scale(1 1.05)" stroke="#222" stroke-width="0.06">23</text>
<rect x="408.38" y="345.20" width="8.65" height="75.70" fill="#5e90eb"/>
<text x="0" y="1.53" font-size="4.6" text-anchor="middle" fill="#222" font-weight="normal" transform="translate(412.70 342.00) scale(1 1.05)" stroke="#222" stroke-width="0.06">24</text>
<rect x="418.31" y="347.80" width="8.65" height="73.10" fill="#5e90eb"/>
<text x="0" y="1.53" font-size="4.6" text-anchor="middle" fill="#222" font-weight="normal" transform="translate(422.63 344.60) scale(1 1.05)" stroke="#222" stroke-width="0.06">21</text>
<rect x="428.24" y="359.80" width="8.65" height="61.10" fill="#5e90eb"/>
<text x="0" y="1.53" font-size="4.6" text-anchor="middle" fill="#222" font-weight="normal" transform="translate(432.56 356.60) scale(1 1.05)" stroke="#222" stroke-width="0.06">21</text>
<rect x="438.17" y="359.80" width="8.65" height="61.10" fill="#5e90eb"/>
<text x="0" y="1.53" font-size="4.6" text-anchor="middle" fill="#222" font-weight="normal" transform="translate(442.50 356.60) scale(1 1.05)" stroke="#222" stroke-width="0.06">15</text>
<rect x="448.10" y="359.80" width="8.65" height="61.10" fill="#5e90eb"/>
<text x="0" y="1.53" font-size="4.6" text-anchor="middle" fill="#222" font-weight="normal" transform="translate(452.43 356.60) scale(1 1.05)" stroke="#222" stroke-width="0.06">22</text>
<rect x="458.03" y="359.80" width="8.65" height="61.10" fill="#5e90eb"/>
<text x="0" y="1.53" font-size="4.6" text-anchor="middle" fill="#222" font-weight="normal" transform="translate(462.35 356.60) scale(1 1.05)" stroke="#222" stroke-width="0.06">56</text>
<rect x="467.96" y="359.80" width="8.65" height="61.10" fill="#5e90eb"/>
<text x="0" y="1.53" font-size="4.6" text-anchor="middle" fill="#222" font-weight="normal" transform="translate(472.29 356.60) scale(1 1.05)" stroke="#222" stroke-width="0.06">35</text>
<rect x="477.89" y="361.00" width="8.65" height="59.90" fill="#5e90eb"/>
<text x="0" y="1.53" font-size="4.6" text-anchor="middle" fill="#222" font-weight="normal" transform="translate(482.21 357.80) scale(1 1.05)" stroke="#222" stroke-width="0.06">19</text>
<rect x="487.82" y="374.40" width="8.65" height="46.50" fill="#5e90eb"/>
<text x="0" y="1.53" font-size="4.6" text-anchor="middle" fill="#222" font-weight="normal" transform="translate(492.14 371.20) scale(1 1.05)" stroke="#222" stroke-width="0.06">16</text>
<rect x="497.75" y="376.40" width="8.65" height="44.50" fill="#5e90eb"/>
<text x="0" y="1.53" font-size="4.6" text-anchor="middle" fill="#222" font-weight="normal" transform="translate(502.07 373.20) scale(1 1.05)" stroke="#222" stroke-width="0.06">25</text>
<rect x="507.68" y="377.20" width="8.65" height="43.70" fill="#5e90eb"/>
<text x="0" y="1.53" font-size="4.6" text-anchor="middle" fill="#222" font-weight="normal" transform="translate(512.00 374.00) scale(1 1.05)" stroke="#222" stroke-width="0.06">65</text>
<rect x="517.61" y="381.60" width="8.65" height="39.30" fill="#5e90eb"/>
<text x="0" y="1.53" font-size="4.6" text-anchor="middle" fill="#222" font-weight="normal" transform="translate(521.94 378.40) scale(1 1.05)" stroke="#222" stroke-width="0.06">12</text>
<rect x="527.54" y="381.60" width="8.65" height="39.30" fill="#5e90eb"/>
<text x="0" y="1.53" font-size="4.6" text-anchor="middle" fill="#222" font-weight="normal" transform="translate(531.87 378.40) scale(1 1.05)" stroke="#222" stroke-width="0.06">10</text>
<rect x="537.47" y="382.20" width="8.65" height="38.70" fill="#5e90eb"/>
<text x="0" y="1.53" font-size="4.6" text-anchor="middle" fill="#222" font-weight="normal" transform="translate(541.80 379.00) scale(1 1.05)" stroke="#222" stroke-width="0.06">16</text>
<line x1="347.20" y1="290.60" x2="347.20" y2="427.30" stroke="#444" stroke-width="0.9"/>
<line x1="347.20" y1="427.30" x2="549.00" y2="427.30" stroke="#444" stroke-width="0.9"/>
<line x1="345.40" y1="420.70" x2="347.20" y2="420.70" stroke="#333" stroke-width="0.8"/>
<text x="0" y="1.47" font-size="4.4" text-anchor="end" fill="#4d4d4d" font-weight="normal" transform="translate(344.50 420.70) scale(1 1.05)">0.0</text>
<line x1="345.40" y1="393.60" x2="347.20" y2="393.60" stroke="#333" stroke-width="0.8"/>
<text x="0" y="1.47" font-size="4.4" text-anchor="end" fill="#4d4d4d" font-weight="normal" transform="translate(344.50 393.60) scale(1 1.05)">0.5</text>
<line x1="345.40" y1="366.40" x2="347.20" y2="366.40" stroke="#333" stroke-width="0.8"/>
<text x="0" y="1.47" font-size="4.4" text-anchor="end" fill="#4d4d4d" font-weight="normal" transform="translate(344.50 366.40) scale(1 1.05)">1.0</text>
<line x1="345.40" y1="339.30" x2="347.20" y2="339.30" stroke="#333" stroke-width="0.8"/>
<text x="0" y="1.47" font-size="4.4" text-anchor="end" fill="#4d4d4d" font-weight="normal" transform="translate(344.50 339.30) scale(1 1.05)">1.5</text>
<line x1="345.40" y1="311.90" x2="347.20" y2="311.90" stroke="#333" stroke-width="0.8"/>
<text x="0" y="1.47" font-size="4.4" text-anchor="end" fill="#4d4d4d" font-weight="normal" transform="translate(344.50 311.90) scale(1 1.05)">2.0</text>
<line x1="353.12" y1="427.30" x2="353.12" y2="429.10" stroke="#333" stroke-width="0.8"/>
<text x="354.12" y="433.00" font-size="3.98" text-anchor="end" fill="#3d3d3d" stroke="#3d3d3d" stroke-width="0.12" transform="rotate(-55 354.12 433.00)">Plant-pathogen interaction</text>
<line x1="363.06" y1="427.30" x2="363.06" y2="429.10" stroke="#333" stroke-width="0.8"/>
<text x="364.06" y="433.00" font-size="3.98" text-anchor="end" fill="#3d3d3d" stroke="#3d3d3d" stroke-width="0.12" transform="rotate(-55 364.06 433.00)">Photosynthesis</text>
<line x1="372.99" y1="427.30" x2="372.99" y2="429.10" stroke="#333" stroke-width="0.8"/>
<text x="373.99" y="433.00" font-size="3.98" text-anchor="end" fill="#3d3d3d" stroke="#3d3d3d" stroke-width="0.12" transform="rotate(-55 373.99 433.00)">Ribosome</text>
<line x1="382.92" y1="427.30" x2="382.92" y2="429.10" stroke="#333" stroke-width="0.8"/>
<text x="383.92" y="433.00" font-size="3.98" text-anchor="end" fill="#3d3d3d" stroke="#3d3d3d" stroke-width="0.12" transform="rotate(-55 383.92 433.00)">Brassinosteroid biosynthesis</text>
<line x1="392.84" y1="427.30" x2="392.84" y2="429.10" stroke="#333" stroke-width="0.8"/>
<text x="393.84" y="433.00" font-size="3.98" text-anchor="end" fill="#3d3d3d" stroke="#3d3d3d" stroke-width="0.12" transform="rotate(-55 393.84 433.00)">Plant hormone signal transduction</text>
<line x1="402.77" y1="427.30" x2="402.77" y2="429.10" stroke="#333" stroke-width="0.8"/>
<text x="403.77" y="433.00" font-size="3.98" text-anchor="end" fill="#3d3d3d" stroke="#3d3d3d" stroke-width="0.12" transform="rotate(-55 403.77 433.00)">Phenylalanine metabolism</text>
<line x1="412.70" y1="427.30" x2="412.70" y2="429.10" stroke="#333" stroke-width="0.8"/>
<text x="413.70" y="433.00" font-size="3.98" text-anchor="end" fill="#3d3d3d" stroke="#3d3d3d" stroke-width="0.12" transform="rotate(-55 413.70 433.00)">Phenylalanine, tyrosine and tryptophan biosynthesis ...</text>
<line x1="422.63" y1="427.30" x2="422.63" y2="429.10" stroke="#333" stroke-width="0.8"/>
<text x="423.63" y="433.00" font-size="3.98" text-anchor="end" fill="#3d3d3d" stroke="#3d3d3d" stroke-width="0.12" transform="rotate(-55 423.63 433.00)">Tyrosine metabolism</text>
<line x1="432.56" y1="427.30" x2="432.56" y2="429.10" stroke="#333" stroke-width="0.8"/>
<text x="433.56" y="433.00" font-size="3.98" text-anchor="end" fill="#3d3d3d" stroke="#3d3d3d" stroke-width="0.12" transform="rotate(-55 433.56 433.00)">Flavonoid biosynthesis</text>
<line x1="442.50" y1="427.30" x2="442.50" y2="429.10" stroke="#333" stroke-width="0.8"/>
<text x="443.50" y="433.00" font-size="3.98" text-anchor="end" fill="#3d3d3d" stroke="#3d3d3d" stroke-width="0.12" transform="rotate(-55 443.50 433.00)">Cutin, suberine and wax biosynthesis</text>
<line x1="452.43" y1="427.30" x2="452.43" y2="429.10" stroke="#333" stroke-width="0.8"/>
<text x="453.43" y="433.00" font-size="3.98" text-anchor="end" fill="#3d3d3d" stroke="#3d3d3d" stroke-width="0.12" transform="rotate(-55 453.43 433.00)">alpha-Linolenic acid metabolism</text>
<line x1="462.35" y1="427.30" x2="462.35" y2="429.10" stroke="#333" stroke-width="0.8"/>
<text x="463.35" y="433.00" font-size="3.98" text-anchor="end" fill="#3d3d3d" stroke="#3d3d3d" stroke-width="0.12" transform="rotate(-55 463.35 433.00)">Phenylpropanoid biosynthesis</text>
<line x1="472.29" y1="427.30" x2="472.29" y2="429.10" stroke="#333" stroke-width="0.8"/>
<text x="473.29" y="433.00" font-size="3.98" text-anchor="end" fill="#3d3d3d" stroke="#3d3d3d" stroke-width="0.12" transform="rotate(-55 473.29 433.00)">Glycerolipid metabolism</text>
<line x1="482.21" y1="427.30" x2="482.21" y2="429.10" stroke="#333" stroke-width="0.8"/>
<text x="483.21" y="433.00" font-size="3.98" text-anchor="end" fill="#3d3d3d" stroke="#3d3d3d" stroke-width="0.12" transform="rotate(-55 483.21 433.00)">DNA replication</text>
<line x1="492.14" y1="427.30" x2="492.14" y2="429.10" stroke="#333" stroke-width="0.8"/>
<text x="493.14" y="433.00" font-size="3.98" text-anchor="end" fill="#3d3d3d" stroke="#3d3d3d" stroke-width="0.12" transform="rotate(-55 493.14 433.00)">Stilbenoid, diarylheptanoid and gingerol biosynthesis ...</text>
<line x1="502.07" y1="427.30" x2="502.07" y2="429.10" stroke="#333" stroke-width="0.8"/>
<text x="503.07" y="433.00" font-size="3.98" text-anchor="end" fill="#3d3d3d" stroke="#3d3d3d" stroke-width="0.12" transform="rotate(-55 503.07 433.00)">Arginine and proline metabolism</text>
<line x1="512.00" y1="427.30" x2="512.00" y2="429.10" stroke="#333" stroke-width="0.8"/>
<text x="513.00" y="433.00" font-size="3.98" text-anchor="end" fill="#3d3d3d" stroke="#3d3d3d" stroke-width="0.12" transform="rotate(-55 513.00 433.00)">MAPK signaling pathway - plant</text>
<line x1="521.94" y1="427.30" x2="521.94" y2="429.10" stroke="#333" stroke-width="0.8"/>
<text x="522.94" y="433.00" font-size="3.98" text-anchor="end" fill="#3d3d3d" stroke="#3d3d3d" stroke-width="0.12" transform="rotate(-55 522.94 433.00)">Nitrogen metabolism</text>
<line x1="531.87" y1="427.30" x2="531.87" y2="429.10" stroke="#333" stroke-width="0.8"/>
<text x="532.87" y="433.00" font-size="3.98" text-anchor="end" fill="#3d3d3d" stroke="#3d3d3d" stroke-width="0.12" transform="rotate(-55 532.87 433.00)">Isoquinoline alkaloid biosynthesis</text>
<line x1="541.80" y1="427.30" x2="541.80" y2="429.10" stroke="#333" stroke-width="0.8"/>
<text x="542.80" y="433.00" font-size="3.98" text-anchor="end" fill="#3d3d3d" stroke="#3d3d3d" stroke-width="0.12" transform="rotate(-55 542.80 433.00)">Cyanoamino acid metabolism</text>
<text x="0" y="4.57" font-size="12" text-anchor="middle" fill="#000" font-weight="normal" transform="translate(314.40 350.60) rotate(-90) scale(1 0.92)">M29_2 vs WT</text>
<text x="0" y="1.83" font-size="5.5" text-anchor="middle" fill="#000" font-weight="normal" transform="translate(332.70 360.30) rotate(-89.6) scale(1 1.05)">-log10(padj)</text>
<text x="0" y="1.83" font-size="5.5" text-anchor="middle" fill="#000" font-weight="normal" transform="translate(447.20 518.60) scale(1 1.05)">Description</text>
</g>
</svg></body></html>
